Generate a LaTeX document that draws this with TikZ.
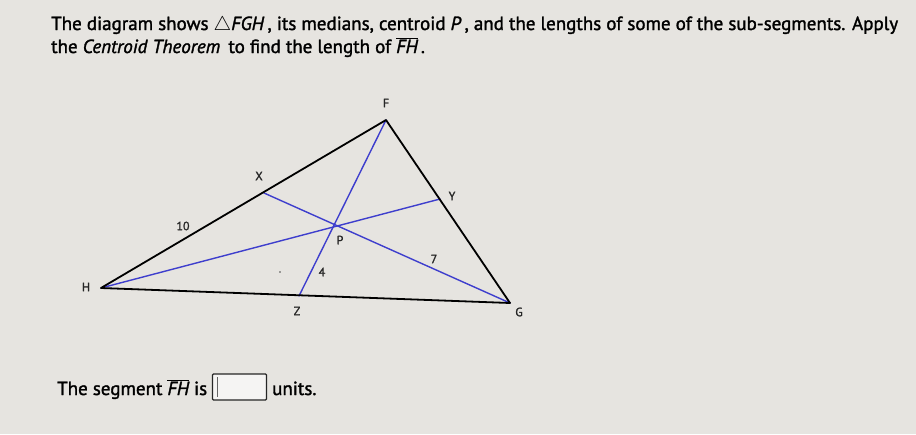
\documentclass[tikz,border=0pt]{standalone}
\usepackage{fontspec}
\setmainfont{PT Sans}[FakeBold=1.6]
\setsansfont{PT Sans}[FakeBold=1.6]
\definecolor{bg}{RGB}{230,228,224}
\definecolor{med}{RGB}{62,62,205}
\tikzset{
  side/.style={line width=1.8pt, black, line cap=round, line join=round},
  median/.style={line width=1.4pt, med, line cap=round},
  lbl/.style={font=\fontsize{12}{14}\selectfont, text=black!85, inner sep=0pt},
  txt/.style={font=\fontsize{19}{22}\selectfont, anchor=base west, inner sep=0pt, text=black},
}
\newcommand{\ovl}[1]{$\overline{\hbox{\itshape #1}}$}
\begin{document}
\begin{tikzpicture}[x=1pt,y=-1pt]
\fill[bg] (0,0) rectangle (916,434);
\useasboundingbox (0,0) rectangle (916,434);
% text
\node[txt] (l1) at (51,30) {The diagram shows \scalebox{1.15}{$\triangle$}\textit{FGH}\,, its medians, centroid \textit{P}\,, and the lengths of some of the sub-segments. Apply};
\node[txt] (l2) at (51,53) {the \textit{Centroid Theorem}\, to find the length of \ovl{FH}\,.};
% points
\coordinate (F) at (386,120);
\coordinate (H) at (101,288);
\coordinate (G) at (510,303);
\coordinate (X) at (264,193);
\coordinate (Y) at (440,199);
\coordinate (Z) at (299,296);
\coordinate (P) at (335,226);
% medians
\draw[median] (F) -- (Z);
\draw[median] (X) -- (G);
\draw[median] (H) -- (Y);
% sides
\draw[side] (F) -- (G) -- (H) -- cycle;
% labels
\node[lbl] (lF) at (386,103) {F};
\node[lbl] (lX) at (259,176) {X};
\node[lbl] (lY) at (452,196) {Y};
\node[lbl] (lH) at (86,287) {H};
\node[lbl] (lZ) at (297,311) {Z};
\node[lbl] (lG) at (519,312) {G};
\node[lbl] (lP) at (340,240) {P};
\node[lbl] (l10) at (183,226) {10};
\node[lbl] (l7) at (434,259) {7};
\node[lbl] (l4) at (322,272) {4};
\fill[black!70] (280,272) circle (0.9);
% answer line
\node[txt] (a1) at (57,395) {The segment \ovl{FH} is};
\node[draw=black!85, line width=1.2pt, rounded corners=1pt, minimum width=54pt, minimum height=26pt, inner sep=0pt, fill=white!60!bg] (box) at (239.5,387) {};
\draw[black!60, line width=0.6pt] ([xshift=5pt,yshift=-4pt]box.north west) -- ([xshift=5pt,yshift=4pt]box.south west);
\node[txt] (a2) at (272,395) {units.};
\end{tikzpicture}
\end{document}
